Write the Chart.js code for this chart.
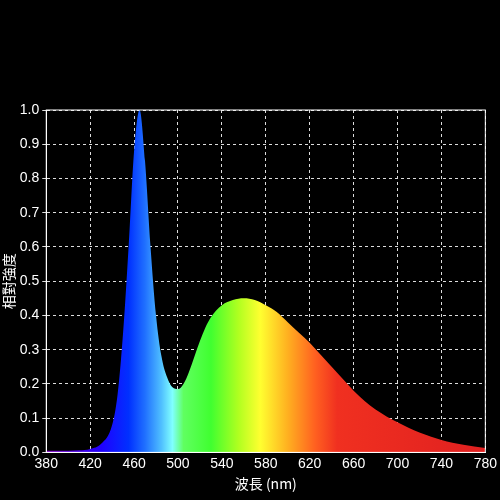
<!DOCTYPE html>
<html>
<head>
<meta charset="utf-8">
<script src="https://cdn.jsdelivr.net/npm/chart.js@4"></script>
<style>
  body { margin: 0; background: #000; }
  #wrap { width: 500px; height: 500px; }
</style>
</head>
<body>
<div id="wrap"><canvas id="chart"></canvas></div>
<script>
const wavelengths = [380, 390, 400, 410, 420, 430, 440, 445, 450, 455, 460, 465, 470, 475, 480, 485, 490, 495, 500, 505, 510, 515, 520, 525, 530, 540, 550, 560, 570, 580, 590, 600, 610, 620, 630, 640, 650, 660, 670, 680, 690, 700, 720, 740, 760, 780];
const intensity = [0.005, 0.005, 0.005, 0.006, 0.01, 0.025, 0.08, 0.17, 0.35, 0.6, 0.88, 1.0, 0.85, 0.6, 0.4, 0.28, 0.22, 0.19, 0.185, 0.2, 0.235, 0.28, 0.325, 0.365, 0.395, 0.43, 0.445, 0.45, 0.445, 0.43, 0.41, 0.38, 0.35, 0.32, 0.285, 0.25, 0.215, 0.18, 0.15, 0.125, 0.105, 0.088, 0.058, 0.036, 0.022, 0.013];

const ctx = document.getElementById("chart");

function spectrumFill(context) {
  const chart = context.chart;
  if (!chart.chartArea) return "#00f";
  const xs = chart.scales.x;
  const g = chart.ctx.createLinearGradient(xs.getPixelForValue(380), 0, xs.getPixelForValue(780), 0);
  const stops = [[380, "#8000c0"], [430, "#2000ff"], [455, "#0030ff"], [470, "#2070ff"], [485, "#50c0ff"], [495, "#80ffff"], [505, "#60ff60"], [530, "#40ff30"], [555, "#b0ff20"], [575, "#ffff30"], [600, "#ffb020"], [625, "#ff6020"], [645, "#f03020"], [780, "#e02020"]];
  stops.forEach(([w, c]) => g.addColorStop((w - 380) / 400, c));
  return g;
}

new Chart(ctx, {
  type: "line",
  data: {
    datasets: [{
      data: wavelengths.map((w, i) => ({ x: w, y: intensity[i] })),
      fill: "origin",
      backgroundColor: spectrumFill,
      borderWidth: 0,
      pointRadius: 0,
      cubicInterpolationMode: "monotone",
    }],
  },
  options: {
    responsive: true,
    maintainAspectRatio: false,
    animation: false,
    layout: { padding: { top: 110, right: 14, left: 0, bottom: 8 } },
    plugins: { legend: { display: false }, tooltip: { enabled: false } },
    scales: {
      x: {
        type: "linear", min: 380, max: 780,
        ticks: { stepSize: 40, color: "#fff", font: { size: 14 } },
        grid: { color: "#ddd", tickLength: 0 },
        border: { color: "#fff", dash: [3, 3] },
        title: { display: true, text: "波長 (nm)", color: "#fff", font: { size: 14, family: "Noto Sans CJK TC" }, padding: 0 },
      },
      y: {
        min: 0, max: 1,
        ticks: { stepSize: 0.1, color: "#fff", font: { size: 14 }, callback: (v) => v.toFixed(1) },
        grid: { color: "#ddd", tickLength: 4 },
        border: { color: "#fff", dash: [3, 3] },
        title: { display: true, text: "相對強度", color: "#fff", font: { size: 14, family: "Noto Sans CJK TC" }, padding: 0 },
      },
    },
  },
  plugins: [{
    id: "frame",
    afterDraw(chart) {
      const { ctx: c, chartArea: a } = chart;
      c.save();
      c.strokeStyle = "#fff";
      c.lineWidth = 1;
      c.strokeRect(a.left, a.top, a.right - a.left, a.bottom - a.top);
      c.restore();
    },
  }],
});
</script>
</body>
</html>
